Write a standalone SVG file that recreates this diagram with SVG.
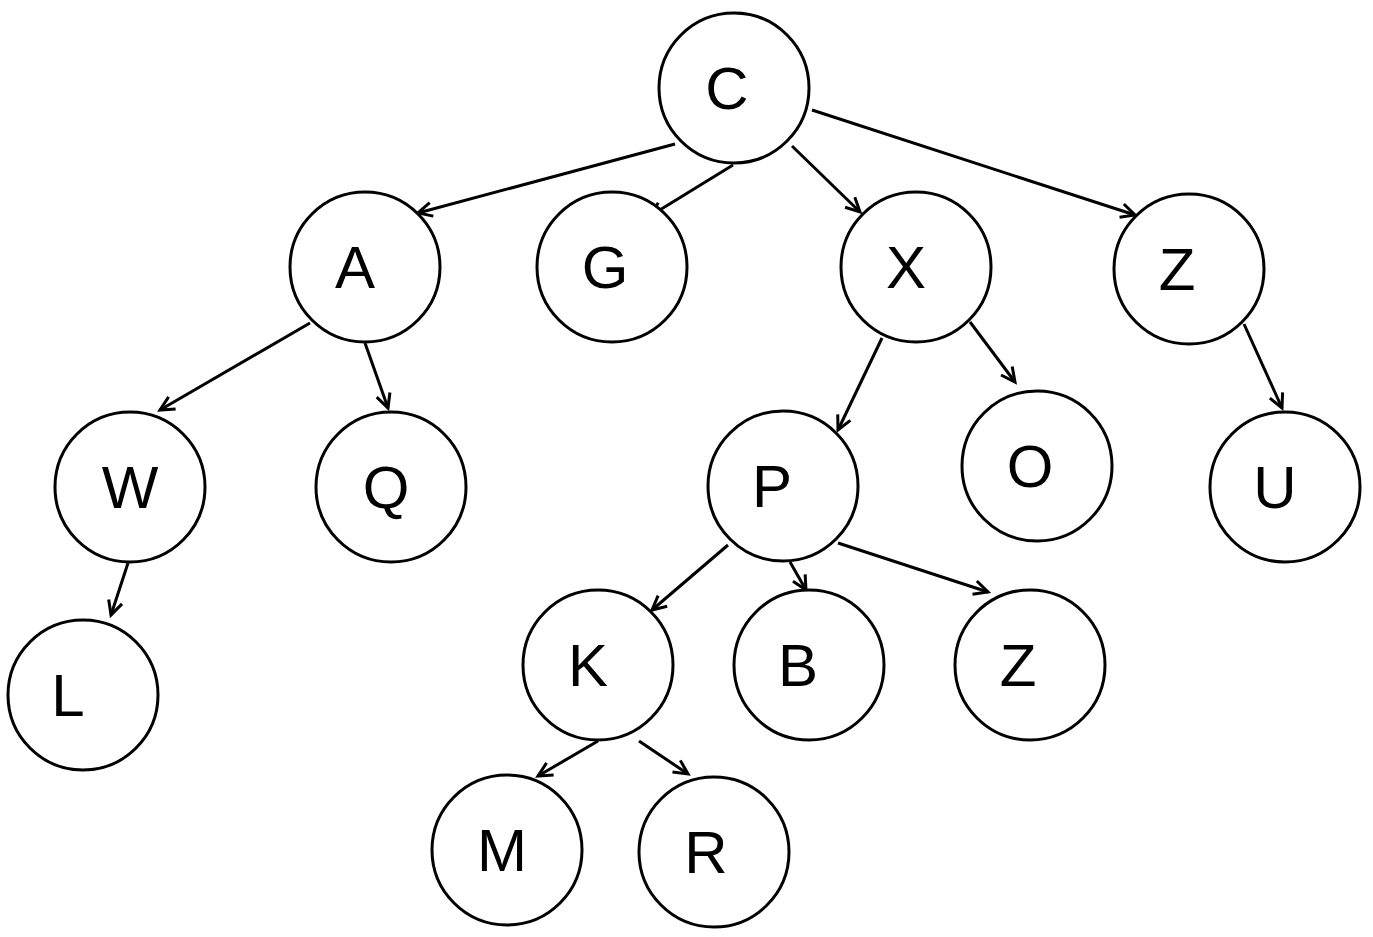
<svg xmlns="http://www.w3.org/2000/svg" width="1373" height="937" viewBox="0 0 1373 937">
<style>
circle{fill:#fff;stroke:#000;stroke-width:3}
text{font-family:"Liberation Sans",Arial,sans-serif;font-size:60px;text-anchor:middle;dominant-baseline:central;fill:#000}
.e line{stroke:#000;stroke-width:3;marker-end:url(#a)}
</style>
<defs><marker id="a" viewBox="0 0 20 20" refX="17" refY="10" markerWidth="20" markerHeight="20" markerUnits="userSpaceOnUse" orient="auto"><path d="M3,3 L17,10 L3,17" fill="none" stroke="#000" stroke-width="3"/></marker></defs>
<rect width="1373" height="937" fill="#fff"/>
<g class="e">
<line x1="675" y1="144" x2="418" y2="213"/>
<line x1="733" y1="165" x2="650" y2="216"/>
<line x1="792" y1="146" x2="860" y2="212"/>
<line x1="812" y1="110" x2="1135" y2="215"/>
<line x1="310" y1="323" x2="160" y2="410"/>
<line x1="365" y1="343" x2="388" y2="408"/>
<line x1="882" y1="338" x2="838" y2="430"/>
<line x1="970" y1="322" x2="1015" y2="382"/>
<line x1="1244" y1="324" x2="1282" y2="408"/>
<line x1="128" y1="563" x2="111" y2="615"/>
<line x1="728" y1="545" x2="652" y2="610"/>
<line x1="790" y1="562" x2="806" y2="590"/>
<line x1="838" y1="543" x2="988" y2="592"/>
<line x1="598" y1="741" x2="538" y2="776"/>
<line x1="639" y1="741" x2="688" y2="774"/>
</g>
<g id="C"><circle cx="734" cy="88" r="75"/><text x="727" y="88">C</text></g>
<g id="A"><circle cx="365" cy="267" r="75"/><text x="355" y="267">A</text></g>
<g id="G"><circle cx="612" cy="267" r="75"/><text x="605" y="267">G</text></g>
<g id="X"><circle cx="916" cy="267" r="75"/><text x="906" y="267">X</text></g>
<g id="Z"><circle cx="1189" cy="269" r="75"/><text x="1177" y="269">Z</text></g>
<g id="W"><circle cx="130" cy="487" r="75"/><text x="130" y="487">W</text></g>
<g id="Q"><circle cx="391" cy="487" r="75"/><text x="386" y="487">Q</text></g>
<g id="P"><circle cx="783" cy="486" r="75"/><text x="772" y="486">P</text></g>
<g id="O"><circle cx="1037" cy="466" r="75"/><text x="1030" y="466">O</text></g>
<g id="U"><circle cx="1285" cy="487" r="75"/><text x="1275" y="487">U</text></g>
<g id="L"><circle cx="83" cy="695" r="75"/><text x="68" y="695">L</text></g>
<g id="K"><circle cx="598" cy="665" r="75"/><text x="588" y="665">K</text></g>
<g id="B"><circle cx="809" cy="665" r="75"/><text x="798" y="665">B</text></g>
<g id="Z2"><circle cx="1030" cy="665" r="75"/><text x="1018" y="665">Z</text></g>
<g id="M"><circle cx="507" cy="850" r="75"/><text x="502" y="850">M</text></g>
<g id="R"><circle cx="714" cy="852" r="75"/><text x="706" y="852">R</text></g>
</svg>
